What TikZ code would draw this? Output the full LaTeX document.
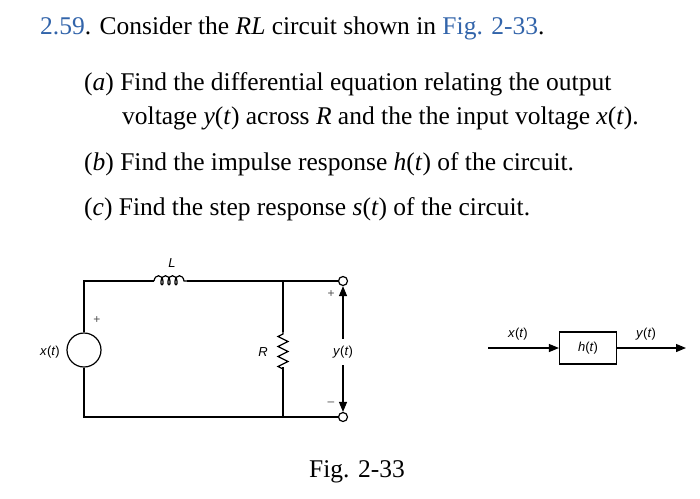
\documentclass[tikz,border=0pt]{standalone}
\usepackage{fontspec}
\setmainfont{Liberation Serif}
\setsansfont{Liberation Sans}
\usetikzlibrary{arrows.meta}
\definecolor{figblue}{RGB}{50,100,170}
\tikzset{
  wire/.style={line width=1.2pt},
  txt/.style={font=\fontsize{25.5}{30}\selectfont, anchor=base west, inner sep=0},
  lab/.style={font=\sffamily\fontsize{13}{15}\selectfont, inner sep=0},
  sgn/.style={font=\sffamily\fontsize{12}{14}\selectfont, inner sep=0, text=black!70},
  term/.style={circle, draw, line width=1.2pt, fill=white, minimum size=9pt, inner sep=0},
  blk/.style={draw, line width=1.2pt, minimum width=57pt, minimum height=32pt, inner sep=0},
  arr/.style={wire, -{Triangle[length=10pt,width=8pt]}}
}
\begin{document}
\begin{tikzpicture}[x=1pt,y=-1pt]
\useasboundingbox (0,0) rectangle (700,498);
% text
\node[txt] (t0) at (40,34) {\textcolor{figblue}{2.59}. Consider the \textit{RL} circuit shown in \textcolor{figblue}{Fig. 2-33}.};
\node[txt] (ta) at (84,90) {(\textit{a}) Find the differential equation relating the output};
\node[txt] (ta2) at (122,124) {voltage \textit{y}(\textit{t}) across \textit{R} and the the input voltage \textit{x}(\textit{t}).};
\node[txt] (tb) at (84,170) {(\textit{b}) Find the impulse response \textit{h}(\textit{t}) of the circuit.};
\node[txt] (tc) at (84,215) {(\textit{c}) Find the step response \textit{s}(\textit{t}) of the circuit.};
\node[txt, anchor=base] (fig) at (357,477) {Fig. 2-33};
% circuit
\coordinate (tl) at (84,281);
\coordinate (bl) at (84,417);
\coordinate (l1) at (154,281);
\coordinate (l2) at (187,281);
\coordinate (rt) at (283,281);
\coordinate (rb) at (283,417);
\coordinate (r1) at (283,332);
\coordinate (r2) at (283,367);
\node[circle, draw, wire, minimum size=34pt, inner sep=0] (src) at (84,350) {};
\node[term] (to) at (343,281) {};
\node[term] (bo) at (343,417) {};
\draw[wire] (src.north) -- (tl) -- (l1);
\draw[wire] (l1) .. controls ++(1,-7) and ++(-1,-7) .. ++(9,0) .. controls ++(1,5) and ++(-1,5) .. ++(-2,0)
  .. controls ++(1,-7) and ++(-1,-7) .. ++(9,0) .. controls ++(1,5) and ++(-1,5) .. ++(-2,0)
  .. controls ++(1,-7) and ++(-1,-7) .. ++(9,0) .. controls ++(1,5) and ++(-1,5) .. ++(-2,0)
  .. controls ++(1,-7) and ++(-1,-7) .. ++(9,0) -- (l2);
\draw[wire] (l2) -- (rt) -- (r1);
\draw[wire] (r1) -- ++(0,2) -- ++(-5,2.5) -- ++(10,5) -- ++(-10,5) -- ++(10,5) -- ++(-10,5) -- ++(10,5) -- ++(-10,5) -- ++(5,2.5) -- (r2);
\draw[wire] (r2) -- (rb) -- (bl) -- (src.south);
\draw[wire] (rt) -- (to);
\draw[wire] (rb) -- (bo);
\node[lab] (yl) at (343,352) {\textit{y}(\textit{t})};
\draw[arr] (yl.north) ++(0,-7) -- (to.south);
\draw[arr] (yl.south) ++(0,7) -- (bo.north);
\node[lab] (xl) at (50,352) {\textit{x}(\textit{t})};
\node[lab] (Ll) at (172,263) {\textit{L}};
\node[lab] (Rl) at (263,352) {\textit{R}};
\node[sgn] (p1) at (97,320) {+};
\node[sgn] (p2) at (331,294) {+};
\node[sgn] (m2) at (331,404) {--};
% block diagram
\coordinate (in) at (488,348);
\coordinate (out) at (686,348);
\node[blk, lab] (h) at (588,348) {\textit{h}(\textit{t})};
\draw[arr] (in) -- (h.west);
\draw[arr] (h.east) -- (out);
\node[lab] (xi) at (518,334) {\textit{x}(\textit{t})};
\node[lab] (yo) at (646,334) {\textit{y}(\textit{t})};
\end{tikzpicture}
\end{document}
